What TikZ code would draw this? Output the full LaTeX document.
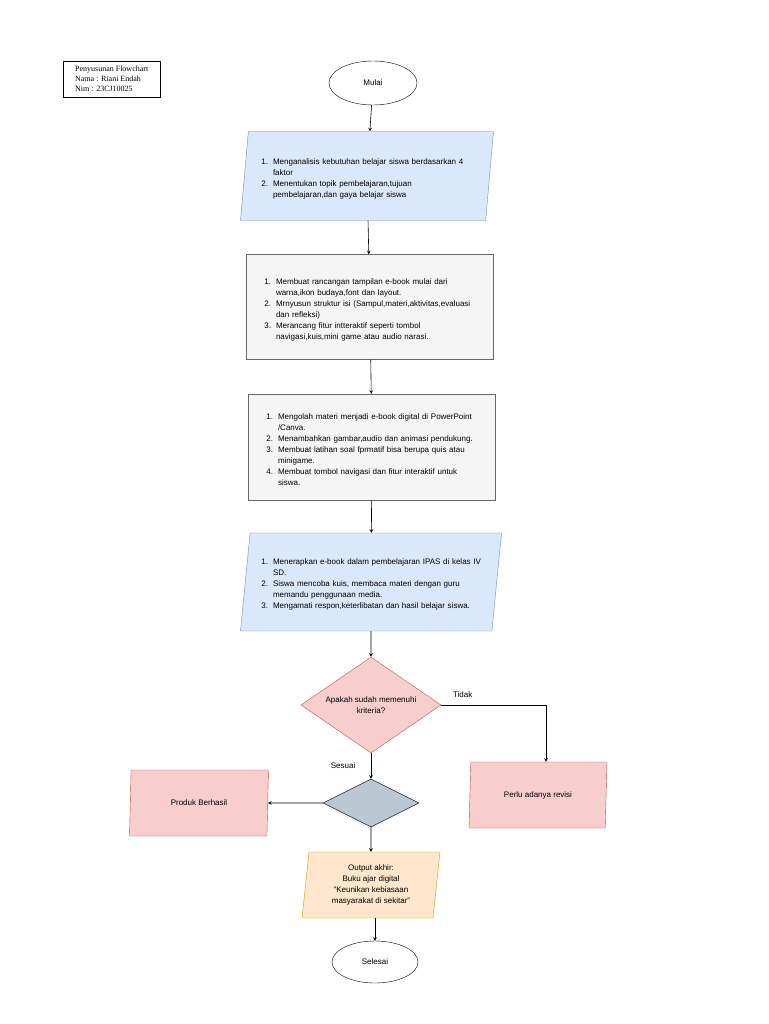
\documentclass[tikz,border=0pt]{standalone}
\usepackage{fontspec}
\setmainfont{Liberation Sans}
\newfontfamily\serifnote{Liberation Serif}
\usepackage{enumitem}
\usetikzlibrary{shapes.geometric,positioning}
\definecolor{blueF}{HTML}{DAE8FC}\definecolor{blueD}{HTML}{6C8EBF}
\definecolor{grayF}{HTML}{F5F5F5}\definecolor{grayD}{HTML}{666666}
\definecolor{redF}{HTML}{F8CECC}\definecolor{redD}{HTML}{B85450}
\definecolor{orgF}{HTML}{FFE6CC}\definecolor{orgD}{HTML}{D79B00}
\definecolor{slateF}{HTML}{BAC8D3}
\newcommand{\steplist}[1]{\begin{enumerate}[leftmargin=16pt,nosep,label=\arabic*.]#1\end{enumerate}}
\begin{document}
\begin{tikzpicture}[x=1pt,y=-1pt,
  every node/.style={font=\fontsize{8}{11}\selectfont},
  term/.style={ellipse,draw,minimum width=88pt,minimum height=44pt},
  para/.style={trapezium,trapezium left angle=81,trapezium right angle=99,trapezium stretches body,draw,inner sep=2pt},
  box/.style={rectangle,draw=grayD,fill=grayF,inner sep=2pt},
  choice/.style={diamond,draw=redD,fill=redF,minimum width=140pt,minimum height=96pt,aspect=1.45,inner sep=0pt},
  flow/.style={->,>=stealth,semithick}]
\useasboundingbox (0,0) rectangle (768,1024);
\node[draw,anchor=north west,inner sep=1pt,minimum width=97pt,minimum height=36pt,align=left,font=\serifnote\fontsize{8}{10}\selectfont] (note) at (63,61) {Penyusunan Flowchart\\Nama : Riani Endah\\Nim : 23CJ10025};
\node[term] (mulai) at (373,83) {Mulai};
\node[para,fill=blueF,draw=blueD,minimum width=253pt,minimum height=89pt,text width=220pt] (analisis) at (367,176)
  {\steplist{\item Menganalisis kebutuhan belajar siswa berdasarkan 4 faktor \item Menentukan topik pembelajaran,tujuan pembelajaran,dan gaya belajar siswa}};
\node[box,minimum width=247pt,minimum height=105pt,text width=220pt] (rancang) at (370,307)
  {\steplist{\item Membuat rancangan tampilan e-book mulai dari warna,ikon budaya,font dan layout. \item Mrnyusun struktur isi (Sampul,materi,aktivitas,evaluasi dan refleksi) \item Merancang fitur intteraktif seperti tombol navigasi,kuis,mini game atau audio narasi.}};
\node[box,minimum width=247pt,minimum height=106pt,text width=220pt] (olah) at (372,447)
  {\steplist{\item Mengolah materi menjadi e-book digital di PowerPoint /Canva. \item Menambahkan gambar,audio dan animasi pendukung. \item Membuat latihan soal fprmatif bisa berupa quis atau minigame. \item Membuat tombol navigasi dan fitur interaktif untuk siswa.}};
\node[para,fill=blueF,draw=blueD,minimum width=261pt,minimum height=98pt,text width=228pt] (terapkan) at (371,582)
  {\steplist{\item Menerapkan e-book dalam pembelajaran IPAS di kelas IV SD. \item Siswa mencoba kuis, membaca materi dengan guru memandu penggunaan media. \item Mengamati respon,keterlibatan dan hasil belajar siswa.}};
\node[choice,align=center] (cek) at (371,705) {Apakah sudah memenuhi\\kriteria?};
\node[diamond,draw,fill=slateF,minimum width=96pt,minimum height=48pt,aspect=2,inner sep=0pt] (pilih) at (371,803) {};
\node[para,fill=redF,draw=redD,minimum width=138pt,minimum height=66pt] (revisi) at (538,795) {Perlu adanya revisi};
\node[para,fill=redF,draw=redD,minimum width=139pt,minimum height=66pt] (produk) at (199,803) {Produk Berhasil};
\node[para,fill=orgF,draw=orgD,minimum width=138pt,minimum height=66pt,align=center] (output) at (371,885)
  {Output akhir:\\Buku ajar digital\\"Keunikan kebiasaan\\masyarakat di sekitar"};
\node[term,minimum width=86pt,minimum height=42pt] (selesai) at (375,962) {Selesai};
\coordinate (belok) at (546,705);
\draw[flow] (mulai) -- (analisis);
\draw[flow] (analisis) -- (rancang);
\draw[flow] (rancang) -- (olah);
\draw[flow] (olah) -- (terapkan);
\draw[flow] (terapkan) -- (cek);
\draw[flow] (cek.east) -- (belok) -- (belok |- revisi.north) node[pos=0,above left=4pt and 70pt] {Tidak};
\draw[flow] (cek.south) -- node[left=12pt,pos=0.5] {Sesuai} (pilih.north);
\draw[flow] (pilih.west) -- (produk.east);
\draw[flow] (pilih.south) -- (output.north);
\draw[flow] (output.south -| selesai.north) -- (selesai.north);
\end{tikzpicture}
\end{document}
